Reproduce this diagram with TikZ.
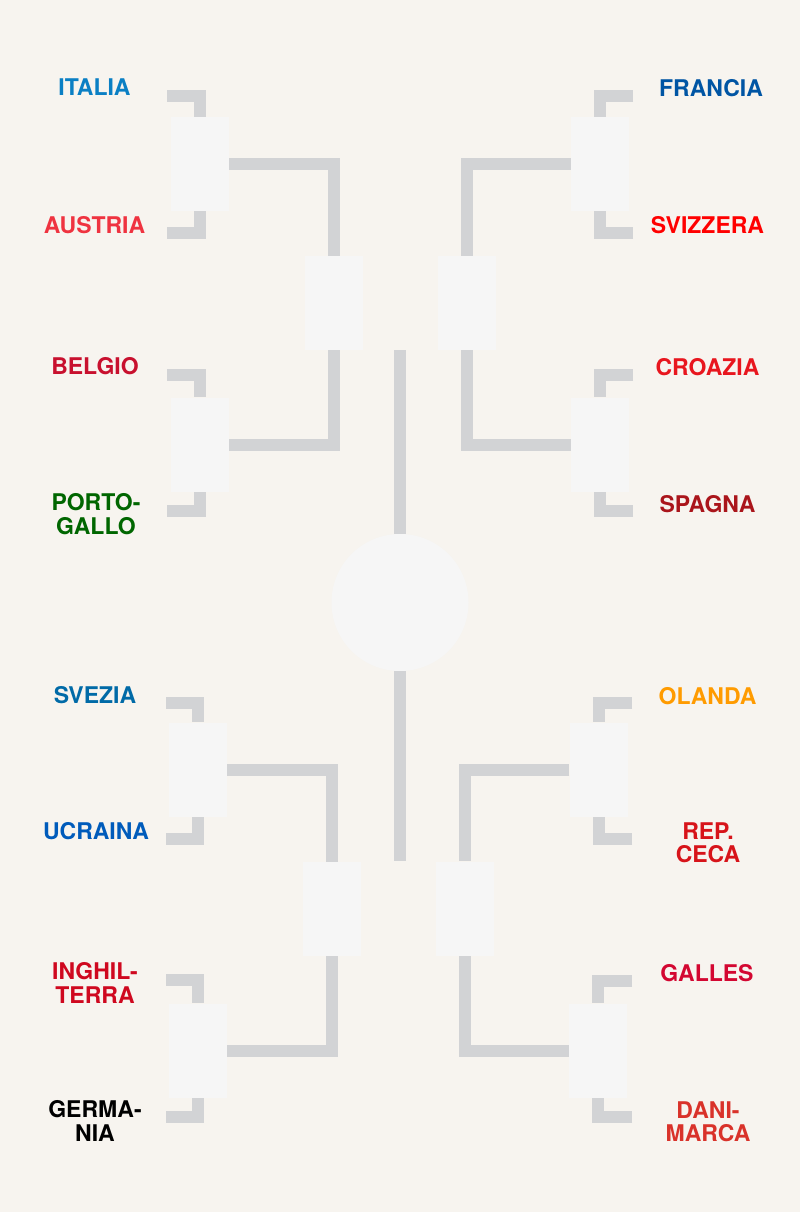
\documentclass[tikz,border=0pt]{standalone}
\usepackage{fontspec}
\setmainfont{TeX Gyre Heros}
\definecolor{bg}{HTML}{F7F4EF}
\definecolor{boxc}{HTML}{F6F6F6}
\definecolor{linec}{HTML}{D2D3D5}
\definecolor{cITA}{HTML}{0A7FC4}
\definecolor{cAUT}{HTML}{EF3340}
\definecolor{cBEL}{HTML}{C8102E}
\definecolor{cPOR}{HTML}{006600}
\definecolor{cFRA}{HTML}{0055A4}
\definecolor{cSUI}{HTML}{FF0000}
\definecolor{cCRO}{HTML}{E8161E}
\definecolor{cESP}{HTML}{AA151B}
\definecolor{cSWE}{HTML}{006AA7}
\definecolor{cUKR}{HTML}{005BBB}
\definecolor{cENG}{HTML}{CF081F}
\definecolor{cGER}{HTML}{000000}
\definecolor{cNED}{HTML}{FF9B00}
\definecolor{cCZE}{HTML}{D7141A}
\definecolor{cWAL}{HTML}{D30731}
\definecolor{cDEN}{HTML}{D9322A}
\begin{document}
\begin{tikzpicture}[x=1pt,y=-1pt,
  match/.style={draw=none,fill=boxc,inner sep=0pt,minimum width=58pt,minimum height=94pt},
  finalc/.style={circle,draw=none,fill=boxc,inner sep=0pt,minimum size=137pt},
  link/.style={draw=linec,line width=12pt,line cap=butt,line join=miter},
  team/.style={font=\fontsize{23}{23.5}\selectfont\bfseries,inner sep=0pt,anchor=base},
  team2/.style={font=\fontsize{23}{23.5}\selectfont\bfseries,inner sep=0pt,anchor=north,align=center}
]
\useasboundingbox (0,0) rectangle (800,1212);
\fill[bg] (0,0) rectangle (800,1212);

% boxes
\node[match] (L1) at (200,164) {};
\node[match] (L2) at (200,444.5) {};
\node[match] (L3) at (198,769.5) {};
\node[match] (L4) at (198,1050.5) {};
\node[match] (LS1) at (333.5,303) {};
\node[match] (LS2) at (332,909) {};
\node[match] (R1) at (600,164) {};
\node[match] (R2) at (600,444.5) {};
\node[match] (R3) at (598.5,769.5) {};
\node[match] (R4) at (598,1050.5) {};
\node[match] (RS1) at (466.5,303) {};
\node[match] (RS2) at (464.5,908.5) {};
\node[finalc] (F) at (400,602.5) {};

% stub coordinates
\coordinate (l1a) at (167,96);   \coordinate (l1b) at (167,233);
\coordinate (l2a) at (167,375);  \coordinate (l2b) at (167,511);
\coordinate (l3a) at (166,702.5);\coordinate (l3b) at (166,838.5);
\coordinate (l4a) at (166,980);  \coordinate (l4b) at (166,1117);
\coordinate (r1a) at (633,96);   \coordinate (r1b) at (633,233);
\coordinate (r2a) at (633,375);  \coordinate (r2b) at (633,511);
\coordinate (r3a) at (632,702.5);\coordinate (r3b) at (632,838.5);
\coordinate (r4a) at (632,981);  \coordinate (r4b) at (632,1117);
\coordinate (ctop) at (400,350);
\coordinate (cbot) at (400,861);

% stubs
\foreach \s/\b in {l1/L1,l2/L2,l3/L3,l4/L4,r1/R1,r2/R2,r3/R3,r4/R4}{
  \draw[link] (\s a) -| (\b.north);
  \draw[link] (\s b) -| (\b.south);
}
% connectors
\draw[link] (L1.east) -| (LS1.north);
\draw[link] (L2.east) -| (LS1.south);
\draw[link] (L3.east) -| (LS2.north);
\draw[link] (L4.east) -| (LS2.south);
\draw[link] (R1.west) -| (RS1.north);
\draw[link] (R2.west) -| (RS1.south);
\draw[link] (R3.west) -| (RS2.north);
\draw[link] (R4.west) -| (RS2.south);
\draw[link] (ctop) -- (F.north);
\draw[link] (F.south) -- (cbot);

% labels
\node[team,text=cITA] (tITA) at (94.5,96) {ITALIA};
\node[team,text=cAUT] (tAUT) at (94.5,233) {AUSTRIA};
\node[team,text=cBEL] (tBEL) at (95,374) {BELGIO};
\node[team2,text=cPOR] (tPOR) at (96,510-16.5) {PORTO-\\GALLO};
\node[team,text=cSWE] (tSWE) at (95,703) {SVEZIA};
\node[team,text=cUKR] (tUKR) at (96,839) {UCRAINA};
\node[team2,text=cENG] (tENG) at (95,979-16.5) {INGHIL-\\TERRA};
\node[team2,text=cGER] (tGER) at (95,1117-16.5) {GERMA-\\NIA};
\node[team,text=cFRA] (tFRA) at (711,97) {FRANCIA};
\node[team,text=cSUI] (tSUI) at (707.5,233) {SVIZZERA};
\node[team,text=cCRO] (tCRO) at (707.5,375) {CROAZIA};
\node[team,text=cESP] (tESP) at (707.5,512) {SPAGNA};
\node[team,text=cNED] (tNED) at (707.5,704) {OLANDA};
\node[team2,text=cCZE] (tCZE) at (708,839-16.5) {REP.\\CECA};
\node[team,text=cWAL] (tWAL) at (707,981) {GALLES};
\node[team2,text=cDEN] (tDEN) at (708,1118-16.5) {DANI-\\MARCA};
\end{tikzpicture}
\end{document}
